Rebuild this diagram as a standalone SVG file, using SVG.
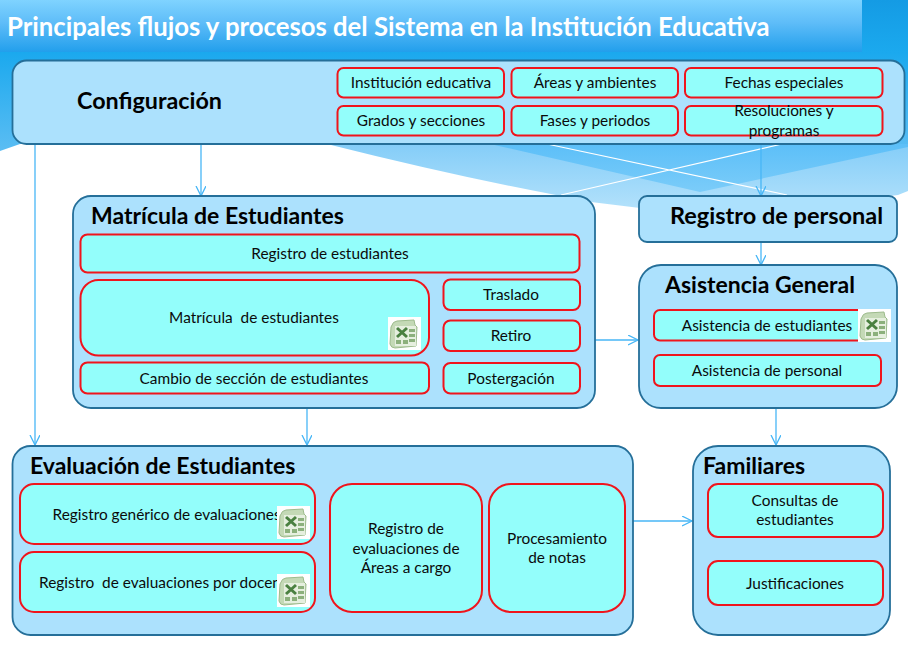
<svg xmlns="http://www.w3.org/2000/svg" width="908" height="655" viewBox="0 0 908 655">
<style>
text{font-family:"Lato","Noto Sans","Liberation Sans",sans-serif;fill:#0b0b0b}
.t{font-size:15.400px;text-anchor:middle}
.l{font-size:15.400px}
.h{font-size:23px;font-weight:700;fill:#000}
.o{fill:#ace1fd;stroke:#256f99;stroke-width:1.8}
.i{fill:#93fefb;stroke:#f0141c;stroke-width:2}
.c{fill:none;stroke:#47b6f6;stroke-width:1.300;marker-end:url(#a)}
</style>
<defs>
<linearGradient id="g" x1="0" y1="0" x2="0" y2="1"><stop offset="0" stop-color="#7fd3ff"/><stop offset="0.45" stop-color="#5dbcf8"/><stop offset="1" stop-color="#229fec"/></linearGradient>
<linearGradient id="bg" x1="0" y1="0" x2="0" y2="1"><stop offset="0" stop-color="#149be4"/><stop offset="0.35" stop-color="#1ba9ee"/><stop offset="1" stop-color="#5bbdf3"/></linearGradient>
<linearGradient id="s" gradientUnits="userSpaceOnUse" x1="0" y1="144" x2="0" y2="208"><stop offset="0" stop-color="#84cdf8"/><stop offset="1" stop-color="#b2e1fb"/></linearGradient>
<linearGradient id="d" gradientUnits="userSpaceOnUse" x1="0" y1="144" x2="0" y2="192"><stop offset="0" stop-color="#5cbff8"/><stop offset="1" stop-color="#7bccf9"/></linearGradient>
<marker id="a" markerWidth="12" markerHeight="12" refX="10" refY="5" orient="auto" markerUnits="userSpaceOnUse"><path d="M0 0L10 5L0 10" fill="none" stroke="#47b6f6" stroke-width="1.300"/></marker>
<symbol id="x" viewBox="0 0 33 33" overflow="visible">
<rect width="33" height="33" fill="#fff"/>
<path d="M3 10Q5 4 9 4L26 3L27 8L29 10L28 29L7 31Q3 31 2 27Z" fill="#c4d9b6" stroke="#9dbb8c" stroke-width="1"/>
<rect x="7" y="9" width="21" height="20" fill="#e6efdf"/>
<path d="M9 11L19 20M19 11L9 20" stroke="#4a8040" stroke-width="3"/>
<path d="M21 12h6v3h-6zM21 17h6v3h-6zM21 22h6v3h-6zM8 23h5v4h-5zM15 23h5v4h-5z" fill="#8cb07c"/>
</symbol>
</defs>
<rect width="908" height="655" fill="#fff"/>
<g id="fondo">
<path d="M327 144Q450 175 556 195L591 202L640 208L790 204Q860 200 898 195L908 191V144Z" fill="url(#s)"/>
<path d="M490 144L700 192L908 147V144Z" fill="url(#d)"/>
<path d="M0 0H908V144H20L0 151Z" fill="url(#bg)"/>
<path d="M0 0H862V52H0Z" fill="url(#g)"/>
<path d="M547 144L787 195M782 144L561 195" stroke="#fff" stroke-width="1.200" fill="none"/>
<text x="7" y="36" style="font-size:25.700px;font-weight:700;fill:#fff">Principales flujos y procesos del Sistema en la Institución Educativa</text>
</g>
<g id="conectores">
<path class="c" d="M35 144V445"/>
<path class="c" d="M201 144V196"/>
<path class="c" d="M761 144V196"/>
<path class="c" d="M761 242V265"/>
<path class="c" d="M595 340H638"/>
<path class="c" d="M307 408V445"/>
<path class="c" d="M776 408V445"/>
<path class="c" d="M633 521H692"/>
</g>
<g id="configuracion">
<rect class="o" x="12.500" y="60.500" width="892" height="83.500" rx="14"/>
<text class="h" x="77" y="109" style="font-size:23.300px">Configuración</text>
<rect class="i" x="337.500" y="68" width="166.500" height="29.500" rx="6"/><text class="t" x="421" y="88">Institución educativa</text>
<rect class="i" x="511.500" y="68" width="166.500" height="29.500" rx="6"/><text class="t" x="595" y="88">Áreas y ambientes</text>
<rect class="i" x="685" y="68" width="197.500" height="29.500" rx="6"/><text class="t" x="784" y="88">Fechas especiales</text>
<rect class="i" x="337.500" y="106" width="166.500" height="29.500" rx="6"/><text class="t" x="421" y="126">Grados y secciones</text>
<rect class="i" x="511.500" y="106" width="166.500" height="29.500" rx="6"/><text class="t" x="595" y="126">Fases y periodos</text>
<rect class="i" x="685" y="106" width="197.500" height="29.500" rx="6"/><text class="t" x="784" y="116">Resoluciones y</text><text class="t" x="784" y="136">programas</text>
</g>
<g id="matricula">
<rect class="o" x="73" y="196" width="522" height="212" rx="18"/>
<text class="h" x="91" y="224">Matrícula de Estudiantes</text>
<rect class="i" x="80.500" y="234.500" width="499" height="38" rx="7"/><text class="t" x="330" y="259">Registro de estudiantes</text>
<rect class="i" x="80.500" y="280" width="348.500" height="75.500" rx="18"/><text class="t" x="254" y="323" xml:space="preserve">Matrícula  de estudiantes</text>
<use href="#x" x="388" y="317" width="33" height="33"/>
<rect class="i" x="443.500" y="279.500" width="136.500" height="30.500" rx="7"/><text class="t" x="511" y="300">Traslado</text>
<rect class="i" x="443.500" y="320.500" width="136.500" height="30.500" rx="7"/><text class="t" x="511" y="341">Retiro</text>
<rect class="i" x="443.500" y="363" width="136.500" height="30.500" rx="7"/><text class="t" x="511" y="384">Postergación</text>
<rect class="i" x="80.500" y="362.500" width="348.500" height="31" rx="7"/><text class="t" x="254" y="384">Cambio de sección de estudiantes</text>
</g>
<g id="registro-personal">
<rect class="o" x="639" y="196" width="258" height="46" rx="8"/>
<text class="h" x="670" y="224" style="font-size:23.500px">Registro de personal</text>
</g>
<g id="asistencia">
<rect class="o" x="639" y="265" width="258" height="143" rx="22"/>
<text class="h" x="665" y="293">Asistencia General</text>
<rect class="i" x="654" y="310" width="227" height="30.500" rx="6"/><text class="t" x="767" y="331">Asistencia de estudiantes</text>
<use href="#x" x="858" y="309" width="33" height="33"/>
<rect class="i" x="654" y="355" width="227" height="31" rx="6"/><text class="t" x="767" y="376">Asistencia de personal</text>
</g>
<g id="evaluacion">
<rect class="o" x="12.500" y="446" width="620.500" height="189" rx="18"/>
<text class="h" x="30" y="474">Evaluación de Estudiantes</text>
<rect class="i" x="20" y="484" width="295" height="60" rx="14"/><text class="l" x="52.500" y="520">Registro genérico de evaluaciones</text>
<use href="#x" x="277" y="506" width="33" height="33"/>
<rect class="i" x="20" y="552" width="295" height="60" rx="14"/><text class="l" x="39" y="588" xml:space="preserve">Registro  de evaluaciones por docente</text>
<use href="#x" x="277" y="574" width="33" height="33"/>
<rect class="i" x="330" y="484" width="152" height="128" rx="22"/><text class="t" x="406" y="534">Registro de</text><text class="t" x="406" y="554">evaluaciones de</text><text class="t" x="406" y="573">Áreas a cargo</text>
<rect class="i" x="489" y="484" width="136" height="128" rx="22"/><text class="t" x="557" y="544">Procesamiento</text><text class="t" x="557" y="563">de notas</text>
</g>
<g id="familiares">
<rect class="o" x="693" y="446" width="197" height="189" rx="25"/>
<text class="h" x="703" y="474">Familiares</text>
<rect class="i" x="708" y="484" width="175" height="53" rx="10"/><text class="t" x="795" y="506">Consultas de</text><text class="t" x="795" y="525">estudiantes</text>
<rect class="i" x="708" y="561" width="175" height="44" rx="10"/><text class="t" x="795" y="589">Justificaciones</text>
</g>
</svg>
